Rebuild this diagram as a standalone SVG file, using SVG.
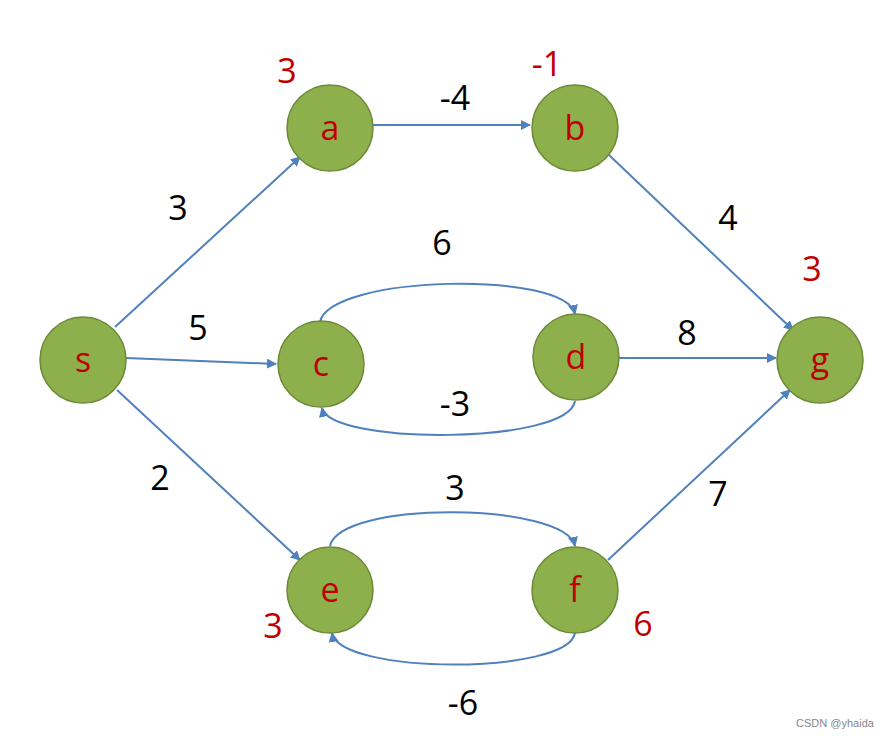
<svg xmlns="http://www.w3.org/2000/svg" width="885" height="740" viewBox="0 0 885 740">
<style>
.n circle{fill:#8db04c;stroke:#6b8a37;stroke-width:1.5}
.n text{fill:#c00000;font-family:"Open Sans","Liberation Sans",sans-serif;font-size:34px;text-anchor:middle}
.e path{fill:none;stroke:#4f81bd;stroke-width:2;marker-end:url(#ar)}
.w{font-family:"Open Sans","Liberation Sans",sans-serif;font-size:34px;text-anchor:middle;fill:#000}
.r{fill:#c00000}
</style>
<defs><marker id="ar" markerWidth="10" markerHeight="10" refX="9" refY="5" orient="auto" markerUnits="userSpaceOnUse"><path d="M0,0 L10,5 L0,10 z" fill="#4f81bd"/></marker></defs>
<rect width="885" height="740" fill="#fff"/>
<g class="e" id="edges">
<path d="M115,327 L300,157"/>
<path d="M373,125 L530,125"/>
<path d="M609,155 L793,330"/>
<path d="M126,358 L276,364"/>
<path d="M618,358 L776,358"/>
<path d="M117,390 L300,560"/>
<path d="M608,560 L790,390"/>
<path d="M320,322 C330,275 565,270 575,314"/>
<path d="M575,401 C568,445 330,445 322,408"/>
<path d="M330,546 C340,500 565,502 575,546"/>
<path d="M575,633 C568,675 340,675 332,633"/>
</g>
<g id="s" class="n"><circle cx="83" cy="360" r="43"/><text x="83" y="372">s</text></g>
<g id="a" class="n"><circle cx="330" cy="128" r="43"/><text x="330" y="140">a</text></g>
<g id="b" class="n"><circle cx="575" cy="128" r="43"/><text x="575" y="140">b</text></g>
<g id="c" class="n"><circle cx="321" cy="364" r="43"/><text x="321" y="376">c</text></g>
<g id="d" class="n"><circle cx="576" cy="357" r="43"/><text x="576" y="369">d</text></g>
<g id="g" class="n"><circle cx="820" cy="360" r="43"/><text x="820" y="372">g</text></g>
<g id="e" class="n"><circle cx="330" cy="590" r="43"/><text x="330" y="602">e</text></g>
<g id="f" class="n"><circle cx="575" cy="590" r="43"/><text x="575" y="602">f</text></g>
<g id="labels" class="w">
<text x="178" y="220">3</text><text x="455" y="110">-4</text><text x="728" y="230">4</text>
<text x="198" y="340">5</text><text x="442" y="255">6</text><text x="687" y="345">8</text>
<text x="455" y="416">-3</text><text x="160" y="490">2</text><text x="455" y="500">3</text>
<text x="718" y="506">7</text><text x="463" y="715">-6</text>
<text class="r" x="287" y="83">3</text><text class="r" x="547" y="76">-1</text><text class="r" x="812" y="281">3</text>
<text class="r" x="273" y="638">3</text><text class="r" x="643" y="636">6</text>
</g>
<text x="835" y="727" font-family="Liberation Sans,sans-serif" font-size="11" fill="#888" text-anchor="middle">CSDN @yhaida</text>
</svg>
